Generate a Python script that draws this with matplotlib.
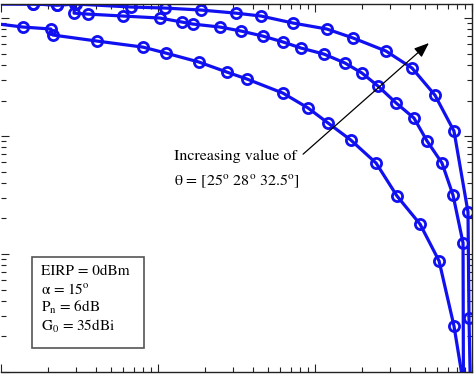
import numpy as np
import matplotlib.pyplot as plt
from matplotlib.patches import Rectangle

plt.rcParams['font.family'] = 'STIXGeneral'
plt.rcParams['mathtext.fontset'] = 'stix'

# curve for theta = 32.5 deg (top)
x_a = [0.9, 1.60, 2.27, 3.00, 6.73, 11.1, 18.8, 31.4, 45.3, 72.4, 119, 175, 283, 415, 581, 768, 943, 957, 986]
y_a = [1.32, 1.315, 1.29, 1.315, 1.24, 1.215, 1.169, 1.10, 1.04, 0.907, 0.807, 0.677, 0.525, 0.377, 0.222,
       0.110, 0.0227, 0.00287, 0.0004]

# curve for theta = 28 deg (middle)
x_b = [0.9, 1.60, 2.27, 2.95, 2.92, 3.58, 5.98, 10.3, 14.2, 16.7, 24.8, 33.8, 46.6, 62.5, 81.4, 114, 155,
       199, 252, 328, 427, 517, 644, 757, 877, 883]
y_b = [1.32, 1.315, 1.29, 1.31, 1.10, 1.08, 1.04, 1.0, 0.925, 0.889, 0.839, 0.776, 0.703, 0.627, 0.557,
       0.495, 0.416, 0.342, 0.265, 0.191, 0.142, 0.0908, 0.059, 0.0316, 0.0124, 0.0004]

# curve for theta = 25 deg (bottom)
x_c = [0.9, 1.38, 2.08, 2.14, 4.09, 8.02, 11.2, 18.2, 27.5, 36.9, 62.5, 90.2, 121, 169, 245, 333, 467,
       617, 768, 916]
y_c = [0.90, 0.839, 0.807, 0.718, 0.638, 0.567, 0.505, 0.424, 0.348, 0.304, 0.231, 0.173, 0.129, 0.0925,
       0.059, 0.031, 0.0179, 0.00873, 0.00245, 0.00058]

W, H = 474, 376
fig = plt.figure(figsize=(W / 100, H / 100), dpi=100)
ax = fig.add_axes([1 / W, 4 / H, 471 / W, 368 / H])

style = dict(color='#1010f0', lw=2.3, marker='o', ms=7.3, mew=2.0, mfc='none')
for xs, ys in [(x_c, y_c), (x_b, y_b), (x_a, y_a)]:
    ax.plot(xs, ys, **style)

ax.set_xscale('log')
ax.set_yscale('log')
ax.set_xlim(1, 1000)
ax.set_ylim(1e-3, 10 ** 0.119)
ax.tick_params(which='both', direction='in', top=True, right=True,
               labelbottom=False, labelleft=False, color='#222222', width=0.8)
ax.tick_params(which='major', length=6)
ax.tick_params(which='minor', length=3.5)
ax.spines['left'].set_visible(False)
for s in ['top', 'right', 'bottom']:
    ax.spines[s].set_linewidth(1.0)
    ax.spines[s].set_color('#222222')

# annotation arrow and label
ax.annotate('', xy=(0.913, 0.899), xytext=(0.637, 0.587), xycoords='axes fraction',
            arrowprops=dict(arrowstyle='-|>,head_length=0.9,head_width=0.35', color='black', lw=0.9))
ax.text(0.367, 0.575, 'Increasing value of', transform=ax.transAxes, fontsize=11.5, va='baseline')
ax.text(0.367, 0.508, r'θ = [25$^{\mathrm{o}}$ 28$^{\mathrm{o}}$ 32.5$^{\mathrm{o}}$]',
        transform=ax.transAxes, fontsize=11.5, va='baseline')

# parameter box
ax.add_patch(Rectangle((31 / 471, (372 - 348) / 368), 112 / 471, 91 / 368, transform=ax.transAxes,
                       fill=False, ec='#555555', lw=1.2))
box_lines = ['EIRP = 0dBm', r'α = 15$^{\mathrm{o}}$', r'P$_{\mathrm{n}}$ = 6dB', r'G$_{0}$ = 35dBi']
for i, t in enumerate(box_lines):
    ax.text(40 / 471, (372 - 275 - 18.5 * i) / 368, t, transform=ax.transAxes, fontsize=11, va='baseline')

fig.savefig('out.png', dpi=100)
